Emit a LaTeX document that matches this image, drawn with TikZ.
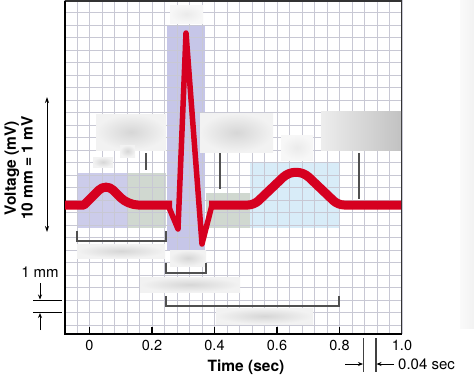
\documentclass[tikz,border=0pt]{standalone}
\usepackage{fontspec}
\setmainfont{TeX Gyre Heros}
\usetikzlibrary{arrows.meta}
\definecolor{ecgred}{RGB}{214,0,32}
\definecolor{gridc}{RGB}{200,200,212}
\definecolor{pcol}{RGB}{204,204,234}
\definecolor{qrscol}{RGB}{198,198,232}
\definecolor{segcol}{RGB}{208,216,208}
\definecolor{tcol}{RGB}{216,236,248}
\definecolor{brk}{RGB}{80,80,80}
\tikzset{
  gridline/.style={gridc, line width=0.85pt},
  ecgthick/.style={ecgred, line width=9pt, line join=round, line cap=butt},
  ecgthin/.style={ecgred, line width=5.5pt, line join=round, line cap=round},
  blurbox/.style={inner color=gray!32, outer color=gray!10, draw=none},
  lightbox/.style={inner color=gray!16, outer color=gray!6, draw=none},
  bracket/.style={brk, line width=1.1pt},
  ticklab/.style={font=\fontsize{14.5}{16}\selectfont, inner sep=0pt},
  axlab/.style={font=\bfseries\fontsize{15.5}{17}\selectfont, inner sep=0pt},
  arr/.style={-{Stealth[length=5pt,width=4pt]}, line width=0.8pt, black},
}
\begin{document}
\begin{tikzpicture}[x=1pt,y=-1pt]
\useasboundingbox (0,0) rectangle (474,381);
\fill[white] (0,0) rectangle (474,381);
% right margin band
\fill[left color=gray!4, right color=gray!10] (460,0) rectangle (474,328);
% shaded wave regions
\fill[pcol] (77,173) rectangle (127,228);
\fill[segcol] (127,173) rectangle (166,228);
\fill[qrscol] (167,25) rectangle (205,250);
\fill[segcol] (206,193) rectangle (250,228);
\fill[tcol] (250,162) rectangle (339,228);
% grid
\foreach \i in {0,...,27} \draw[gridline] ({64.5+12.5*\i},0) -- ({64.5+12.5*\i},334);
\foreach \j in {0,...,26} \draw[gridline] (64.5,{12.5*\j}) -- (401.5,{12.5*\j});
% frame
\draw[black!80, line width=1.5pt] (65,1) -- (401.5,1) -- (401.5,334);
\draw[black, line width=2pt] (65,1) -- (65,334) -- (402,334);
% ticks
\foreach \x in {89.5,152,214.5,277,339.5} \draw[black, line width=1.2pt] (\x,327) -- (\x,334);
% ECG trace
\draw[ecgthick] (65,205) -- (84,205) [rounded corners=10pt] -- (106,183) -- (128,205) [sharp corners] -- (172,205);
\draw[ecgthin] (168,205) -- (178,229) -- (186,33) -- (202,244) -- (212,205);
\draw[ecgthick] (209,205) [rounded corners=6pt] -- (254,205) [rounded corners=18pt] -- (296,165) [rounded corners=6pt] -- (338,205) [sharp corners] -- (401,205);
% label boxes (blanked)
\shade[lightbox] (170,5) rectangle (203,23);
\shade[blurbox] (96,114) rectangle (166,150);
\shade[blurbox] (120,145) rectangle (135,157);
\shade[blurbox] (93,157) rectangle (113,167);
\shade[blurbox] (200,113) rectangle (273,152);
\shade[lightbox] (281,135) rectangle (313,160);
\shade[left color=gray!14, right color=gray!48] (321,111) rectangle (401,150);
\shade[blurbox] (77,244) rectangle (165,258);
\shade[blurbox] (170,250) rectangle (206,266);
\shade[blurbox] (140,277) rectangle (240,292);
\shade[blurbox] (216,308) rectangle (313,324);
% pointer lines
\draw[bracket] (146,153) -- (146,170);
\draw[bracket] (220,153) -- (220,189);
\draw[bracket] (359,153) -- (359,199);
% brackets
\draw[bracket] (77,231) -- (77,241) -- (166,241) -- (166,231);
\draw[bracket] (166,263) -- (166,273) -- (206,273) -- (206,263);
\draw[bracket] (166,296) -- (166,306) -- (339,306) -- (339,296);
% x tick labels
\node[ticklab] (t0) at (89.5,345) {0};
\node[ticklab] (t2) at (152,345) {0.2};
\node[ticklab] (t4) at (214.5,345) {0.4};
\node[ticklab] (t6) at (277,345) {0.6};
\node[ticklab] (t8) at (339.5,345) {0.8};
\node[ticklab] (t10) at (402,345) {1.0};
\node[axlab] (time) at (246,367) {Time (sec)};
% voltage label
\node[axlab, rotate=90] (volt) at (12,168) {Voltage (mV)};
\node[axlab, rotate=90] (scale) at (27,168) {10 mm = 1 mV};
\coordinate (vtop) at (47,97);
\coordinate (vbot) at (47,232);
\draw[{Stealth[length=6pt,width=4pt]}-{Stealth[length=6pt,width=4pt]}, line width=0.8pt] (vtop) -- (vbot);
% 1 mm
\node[ticklab, font=\fontsize{15}{16}\selectfont] (mm) at (40,272) {1 mm};
\draw[black, line width=0.9pt] (33,300) -- (62,300);
\draw[black, line width=0.9pt] (33,312.5) -- (62,312.5);
\draw[arr] (40,283) -- (40,299.5);
\draw[arr] (40,330) -- (40,313);
% 0.04 sec
\draw[black!75, line width=1.1pt] (363.5,338) -- (363.5,372);
\draw[black!75, line width=1.1pt] (376,338) -- (376,372);
\draw[arr] (345,364) -- (363,364);
\draw[arr] (394,364) -- (376.5,364);
\node[ticklab, font=\fontsize{15}{16}\selectfont, anchor=west] (sec) at (398,364) {0.04 sec};
\end{tikzpicture}
\end{document}
